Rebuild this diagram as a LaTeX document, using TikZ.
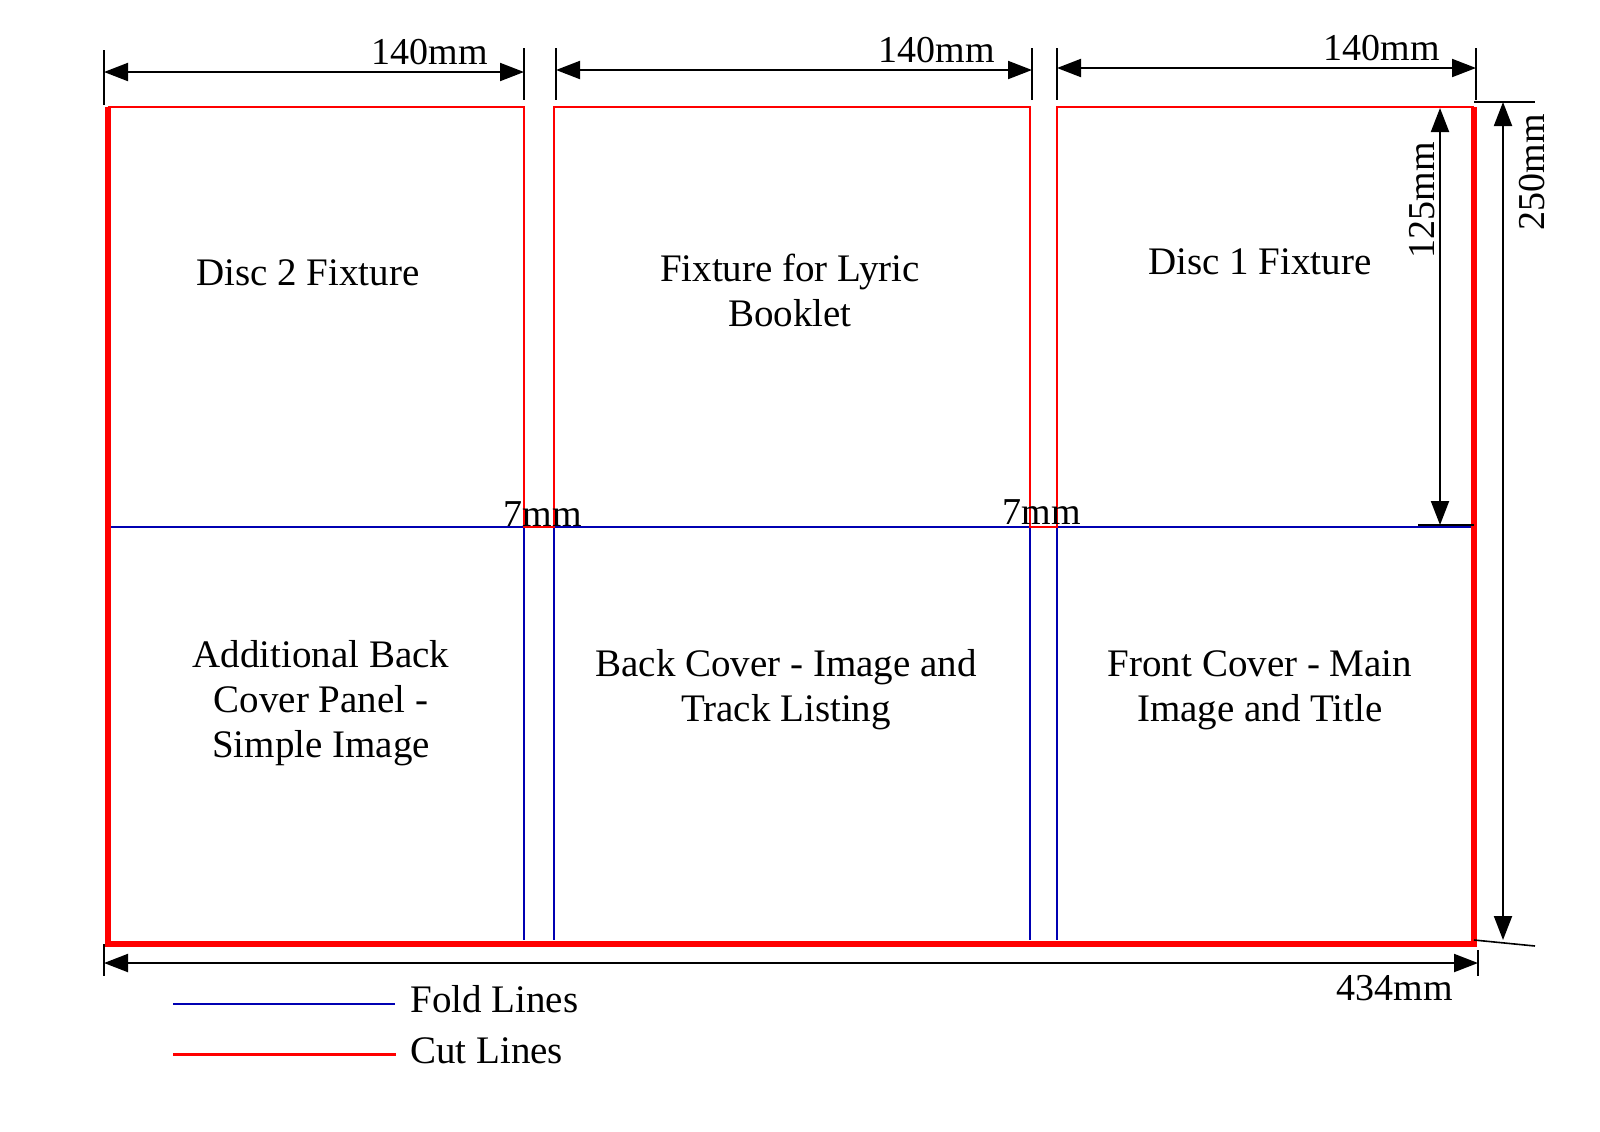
\documentclass[tikz,border=0pt]{standalone}
\usepackage{fontspec}
\setmainfont{Liberation Serif}
\usetikzlibrary{arrows.meta}
\begin{document}
\begin{tikzpicture}[x=0.5pt,y=-0.5pt,
  cut/.style={draw=red,line width=1.2pt},
  cutthick/.style={draw=red,line width=2.6pt},
  fold/.style={draw=blue!70!black,line width=0.6pt},
  dim/.style={draw=black,line width=1pt,{Triangle[length=12pt,width=9pt]}-{Triangle[length=12pt,width=9pt]}},
  ext/.style={draw=black,line width=0.8pt},
  lbl/.style={font=\fontsize{19.5}{22.5}\selectfont,align=center},
  dlbl/.style={font=\fontsize{19}{22}\selectfont,inner sep=0pt}]
\useasboundingbox (0,0) rectangle (1600,1131);
\coordinate (TL) at (108,107); \coordinate (BL) at (108,944);
\coordinate (TR) at (1474,107); \coordinate (BR) at (1474,944);
% fold lines
\draw[fold] (108,527) -- (1474,527);
\foreach \x in {524,554,1030,1057} \draw[fold] (\x,527) -- (\x,940);
% cut lines
\draw[cut] (108,107) -- (524,107) -- (524,527) -- (554,527) -- (554,107) -- (1030,107) -- (1030,527) -- (1057,527) -- (1057,107) -- (1474,107);
\draw[cutthick] (TL) -- (BL) -- (BR) -- (TR);
% panel texts
\node[lbl] (p1) at (308,273) {Disc 2 Fixture};
\node[lbl] (p2) at (790,290) {Fixture for Lyric\\Booklet};
\node[lbl] (p3) at (1260,262) {Disc 1 Fixture};
\node[lbl] (p4) at (321,703) {Additional Back\\Cover Panel -\\Simple Image};
\node[lbl] (p5) at (786,690) {Back Cover - Image and\\Track Listing};
\node[lbl] (p6) at (1260,690) {Front Cover - Main\\Image and Title};
% top dims
\draw[ext] (104,50) -- (104,105); \draw[ext] (524,48) -- (524,100);
\draw[ext] (556,48) -- (556,100); \draw[ext] (1032,48) -- (1032,100);
\draw[ext] (1057,48) -- (1057,100); \draw[ext] (1476,48) -- (1476,100);
\coordinate (a1) at (104,72); \coordinate (b1) at (524,72);
\coordinate (a2) at (556,70); \coordinate (b2) at (1032,70);
\coordinate (a3) at (1057,68); \coordinate (b3) at (1476,68);
\draw[dim] (a1) -- (b1); \draw[dim] (a2) -- (b2); \draw[dim] (a3) -- (b3);
\node[dlbl] (d1) at (430,52) {140mm};
\node[dlbl] (d2) at (937,50) {140mm};
\node[dlbl] (d3) at (1382,48) {140mm};
% 125mm
\coordinate (c1) at (1440,108); \coordinate (c2) at (1440,525);
\draw[dim] (c1) -- (c2);
\draw[ext,line width=1.4pt] (1418,525) -- (1474,525);
\node[dlbl,rotate=90] (d4) at (1422,200) {125mm};
% 250mm
\draw[ext] (1474,102) -- (1535,102);
\draw[ext] (1474,940) -- (1535,946);
\coordinate (e1) at (1503,102); \coordinate (e2) at (1503,940);
\draw[dim] (e1) -- (e2);
\node[dlbl,rotate=90] (d5) at (1532,172) {250mm};
% 434mm
\draw[ext] (104,944) -- (104,976); \draw[ext] (1478,950) -- (1478,976);
\coordinate (f1) at (104,963); \coordinate (f2) at (1478,963);
\draw[dim] (f1) -- (f2);
\node[dlbl] (d6) at (1395,988) {434mm};
% 7mm
\node[dlbl] (d7) at (543,514) {7mm};
\node[dlbl] (d8) at (1042,512) {7mm};
% legend
\coordinate (l1) at (173,1004); \coordinate (l2) at (395,1004);
\coordinate (l3) at (173,1054); \coordinate (l4) at (396,1054);
\draw[fold,line width=1.2pt] (l1) -- (l2);
\draw[cut,line width=1.5pt] (l3) -- (l4);
\node[lbl,anchor=west,inner sep=0pt] (g1) at (410,999) {Fold Lines};
\node[lbl,anchor=west,inner sep=0pt] (g2) at (410,1051) {Cut Lines};
\end{tikzpicture}
\end{document}
